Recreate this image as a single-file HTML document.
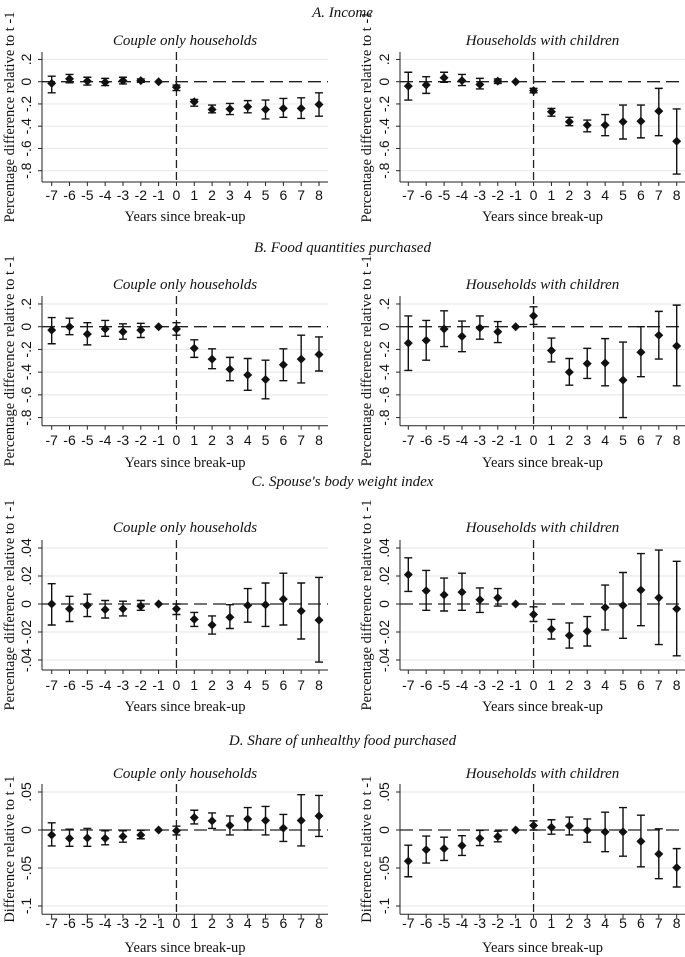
<!DOCTYPE html>
<html><head><meta charset="utf-8"><style>
html,body{margin:0;padding:0;background:#fff;}
svg{display:block;}
.ti{font-family:"Liberation Serif",serif;font-style:italic;font-size:15px;fill:#111;}
.tk{font-family:"Liberation Sans",sans-serif;font-size:14px;fill:#111;}
.at{font-family:"Liberation Serif",serif;font-size:14.5px;fill:#111;}
</style></head><body>
<svg id="fig" width="685" height="957" viewBox="0 0 685 957"></svg>
<script>
const years = [-7,-6,-5,-4,-3,-2,-1,0,1,2,3,4,5,6,7,8];
// A. Income
const incCoupleEst = [-0.015,0.025,0.005,-0.005,0.01,0.01,0,-0.05,-0.18,-0.25,-0.245,-0.225,-0.25,-0.24,-0.24,-0.205];
const incCoupleHi  = [0.05,0.065,0.04,0.03,0.04,0.025,0,-0.03,-0.16,-0.21,-0.195,-0.17,-0.165,-0.15,-0.145,-0.1];
const incCoupleLo  = [-0.1,-0.01,-0.03,-0.035,-0.02,-0.005,0,-0.08,-0.22,-0.28,-0.295,-0.28,-0.335,-0.32,-0.33,-0.31];
const incKidsEst = [-0.04,-0.03,0.035,0.01,-0.025,0.005,0,-0.08,-0.27,-0.36,-0.39,-0.39,-0.36,-0.355,-0.265,-0.535];
const incKidsHi  = [0.085,0.045,0.085,0.065,0.03,0.025,0,-0.06,-0.24,-0.32,-0.345,-0.295,-0.21,-0.21,-0.06,-0.245];
const incKidsLo  = [-0.165,-0.105,-0.005,-0.035,-0.065,-0.015,0,-0.1,-0.31,-0.395,-0.45,-0.485,-0.515,-0.505,-0.485,-0.83];
// B. Food quantities
const foodCoupleEst = [-0.03,0,-0.065,-0.02,-0.045,-0.03,0,-0.02,-0.19,-0.285,-0.375,-0.425,-0.465,-0.335,-0.285,-0.245];
const foodCoupleHi  = [0.08,0.075,0.035,0.055,0.025,0.03,0,0.035,-0.115,-0.195,-0.27,-0.28,-0.295,-0.195,-0.075,-0.09];
const foodCoupleLo  = [-0.15,-0.07,-0.16,-0.085,-0.11,-0.095,0,-0.075,-0.27,-0.37,-0.475,-0.56,-0.635,-0.475,-0.495,-0.39];
const foodKidsEst = [-0.145,-0.12,-0.02,-0.085,-0.01,-0.045,0,0.095,-0.21,-0.4,-0.325,-0.32,-0.47,-0.225,-0.075,-0.17];
const foodKidsHi  = [0.095,0.055,0.14,0.05,0.095,0.045,0,0.175,-0.1,-0.28,-0.19,-0.105,-0.135,0,0.135,0.19];
const foodKidsLo  = [-0.385,-0.295,-0.175,-0.22,-0.11,-0.14,0,0.02,-0.31,-0.515,-0.455,-0.52,-0.8,-0.44,-0.285,-0.52];
// C. Body weight index
const bwiCoupleEst = [0,-0.0035,-0.001,-0.004,-0.0035,-0.0015,0,-0.0035,-0.011,-0.015,-0.0095,-0.001,-0.0005,0.0035,-0.005,-0.0115];
const bwiCoupleHi  = [0.0145,0.0055,0.007,0.0025,0.002,0.0025,0,0,-0.006,-0.0085,-0.0005,0.011,0.015,0.022,0.015,0.019];
const bwiCoupleLo  = [-0.015,-0.0125,-0.009,-0.01,-0.0085,-0.0045,0,-0.0075,-0.016,-0.0215,-0.0175,-0.013,-0.016,-0.015,-0.025,-0.0415];
const bwiKidsEst = [0.021,0.0095,0.0065,0.0085,0.003,0.0045,0,-0.0075,-0.018,-0.0225,-0.0195,-0.0025,-0.001,0.01,0.0045,-0.0035];
const bwiKidsHi  = [0.033,0.024,0.0185,0.022,0.0115,0.011,0,-0.002,-0.011,-0.0135,-0.009,0.0135,0.0225,0.036,0.0385,0.0305];
const bwiKidsLo  = [0.009,-0.0045,-0.005,-0.0045,-0.006,-0.0015,0,-0.0125,-0.025,-0.0315,-0.03,-0.0185,-0.0245,-0.0155,-0.029,-0.037];
// D. Unhealthy share
const unhCoupleEst = [-0.0065,-0.011,-0.0105,-0.011,-0.0085,-0.0065,0,-0.001,0.0165,0.012,0.006,0.0145,0.0125,0.0025,0.0125,0.0185];
const unhCoupleHi  = [0.0095,0.001,0.002,-0.001,-0.001,-0.0005,0,0.005,0.026,0.0225,0.0185,0.0295,0.031,0.0205,0.0465,0.0455];
const unhCoupleLo  = [-0.021,-0.0215,-0.0215,-0.0195,-0.016,-0.0115,0,-0.0065,0.008,0.002,-0.0065,0,-0.0065,-0.015,-0.021,-0.0085];
const unhKidsEst = [-0.041,-0.026,-0.0245,-0.0205,-0.011,-0.0085,0,0.006,0.0035,0.0055,-0.0005,-0.0025,-0.0025,-0.015,-0.0315,-0.0495];
const unhKidsHi  = [-0.02,-0.008,-0.0095,-0.0075,-0.0005,-0.0015,0,0.012,0.0135,0.017,0.0145,0.0235,0.0295,0.0195,0.0015,-0.0245];
const unhKidsLo  = [-0.0615,-0.0435,-0.04,-0.0335,-0.0205,-0.0155,0,0,-0.0055,-0.0065,-0.016,-0.0285,-0.0345,-0.0485,-0.064,-0.075];

const pctTicks = [0.2,0,-0.2,-0.4,-0.6,-0.8];
const pctTickLabels = [".2","0","-.2","-.4","-.6","-.8"];
const bwiTicks = [0.04,0.02,0,-0.02,-0.04];
const bwiTickLabels = [".04",".02","0","-.02","-.04"];
const unhTicks = [0.05,0,-0.05,-0.1];
const unhTickLabels = [".05","0","-.05","-.1"];

const NS="http://www.w3.org/2000/svg";
const svg=document.getElementById('fig');
function mk(tag,attrs,parent,text){
  const e=document.createElementNS(NS,tag);
  for(const k in attrs)e.setAttribute(k,attrs[k]);
  if(text!==undefined)e.textContent=text;
  (parent||svg).appendChild(e);return e;
}

const rows=[
 {key:'income',title:'A. Income',titleY:17,ptY:45,top:52,zero:81.7,ppu:111.25,bottom:182,tkY:200,xtY:221,ticks:pctTicks,labels:pctTickLabels,ylab:'Percentage difference relative to t -1',
  series:[[incCoupleEst,incCoupleLo,incCoupleHi],[incKidsEst,incKidsLo,incKidsHi]]},
 {key:'food',title:'B. Food quantities purchased',titleY:252,ptY:289,top:296,zero:326.7,ppu:113.6,bottom:425.7,tkY:445,xtY:467,ticks:pctTicks,labels:pctTickLabels,ylab:'Percentage difference relative to t -1',
  series:[[foodCoupleEst,foodCoupleLo,foodCoupleHi],[foodKidsEst,foodKidsLo,foodKidsHi]]},
 {key:'bwi',title:"C. Spouse's body weight index",titleY:486,ptY:532,top:540,zero:604,ppu:1400,bottom:670,tkY:690,xtY:711,ticks:bwiTicks,labels:bwiTickLabels,ylab:'Percentage difference relative to t -1',
  series:[[bwiCoupleEst,bwiCoupleLo,bwiCoupleHi],[bwiKidsEst,bwiKidsLo,bwiKidsHi]]},
 {key:'unhealthy',title:'D. Share of unhealthy food purchased',titleY:745,ptY:778,top:784,zero:830,ppu:760,bottom:914.3,tkY:928,xtY:952,ticks:unhTicks,labels:unhTickLabels,ylab:'Difference relative to t -1',
  series:[[unhCoupleEst,unhCoupleLo,unhCoupleHi],[unhKidsEst,unhKidsLo,unhKidsHi]]}
];
const cols=[
 {key:'couple',name:'Couple only households',axis:42,xa:51.7,xb:319,right:328,ylabX:10,tickX:31},
 {key:'children',name:'Households with children',axis:400,xa:408.3,xb:676.7,right:685,ylabX:367,tickX:389}
];

rows.forEach(r=>{
  const st=mk('text',{x:342.5,y:r.titleY,'text-anchor':'middle',class:'ti'},svg,r.title);
  
  
  cols.forEach((c,ci)=>{
    const g=mk('g',{});
    
    
    const xs=v=>c.xa+(v-years[0])*(c.xb-c.xa)/(years[years.length-1]-years[0]);
    const ys=v=>r.zero-v*r.ppu;
    const cx=(c.axis+c.right)/2;
    const pt=mk('text',{x:cx,y:r.ptY,'text-anchor':'middle',class:'ti'},g,c.name);
    
    
    r.ticks.forEach((t,i)=>{
      const y=ys(t);
      if(Math.abs(t)>1e-9){
        const gl=mk('line',{x1:c.axis,x2:c.right,y1:y,y2:y,stroke:'#eaeaea','stroke-width':1.2},g);
        
        
      }
      mk('line',{x1:c.axis-4,x2:c.axis,y1:y,y2:y,stroke:'#222','stroke-width':1},g);
      const tl=mk('text',{x:c.tickX,y:y,'text-anchor':'middle',class:'tk',transform:`rotate(-90 ${c.tickX} ${y})`},g,r.labels[i]);
      
      
    });
    const ya=mk('line',{x1:c.axis,x2:c.axis,y1:r.top,y2:r.bottom,stroke:'#222','stroke-width':1},g);
    
    
    const xa=mk('line',{x1:c.axis,x2:c.right,y1:r.bottom,y2:r.bottom,stroke:'#222','stroke-width':1},g);
    
    
    years.forEach(yv=>{
      const x=xs(yv);
      mk('line',{x1:x,x2:x,y1:r.bottom,y2:r.bottom+4,stroke:'#222','stroke-width':1},g);
      const xl=mk('text',{x:x,y:r.tkY,'text-anchor':'middle',class:'tk'},g,String(yv));
      
      
    });
    const hz=mk('line',{x1:c.axis,x2:c.right,y1:ys(0),y2:ys(0),stroke:'#222','stroke-width':1.3,'stroke-dasharray':'13,6'},g);
    
    
    const vz=mk('line',{x1:xs(0),x2:xs(0),y1:r.top,y2:r.bottom,stroke:'#222','stroke-width':1.3,'stroke-dasharray':'8,4'},g);
    
    
    const xt=mk('text',{x:cx,y:r.xtY,'text-anchor':'middle',class:'at'},g,'Years since break-up');
    
    
    const my=(r.top+r.bottom)/2;
    const yt=mk('text',{x:c.ylabX,y:my,'text-anchor':'middle',class:'at','dominant-baseline':'central',transform:`rotate(-90 ${c.ylabX} ${my})`},g,r.ylab);
    
    
    const [est,lo,hi]=r.series[ci];
    years.forEach((yv,i)=>{
      const x=xs(yv);
      if(hi[i]!==lo[i]){
        const eb=mk('path',{d:`M${x} ${ys(hi[i])}V${ys(lo[i])}M${x-4} ${ys(hi[i])}H${x+4}M${x-4} ${ys(lo[i])}H${x+4}`,stroke:'#111','stroke-width':1.4,fill:'none'},g);
        
        
      }
      const y=ys(est[i]);
      const p=mk('path',{d:`M${x} ${y-4.5}L${x+4.5} ${y}L${x} ${y+4.5}L${x-4.5} ${y}Z`,fill:'#111'},g);
      
      
    });
  });
});
</script>
</body></html>
